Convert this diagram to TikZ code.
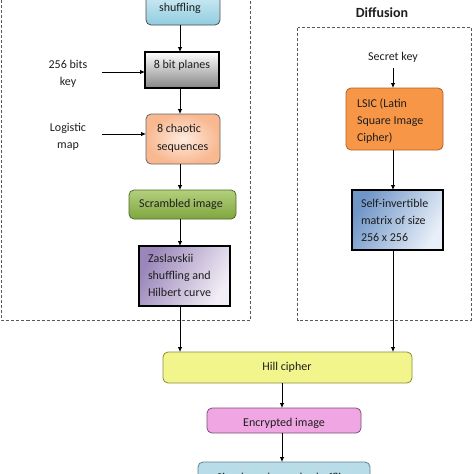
\documentclass[tikz,border=0pt]{standalone}
\usepackage{fontspec}
\setmainfont{Carlito}
\usetikzlibrary{arrows.meta,calc}
\definecolor{shufTop}{HTML}{D6EEF6}
\definecolor{shufBot}{HTML}{8FCCE0}
\definecolor{bitsBot}{HTML}{858585}
\definecolor{peach}{HTML}{F8B890}
\definecolor{peachIn}{HTML}{FDEBDF}
\definecolor{grTop}{HTML}{B3CF7C}
\definecolor{grBot}{HTML}{7FA640}
\definecolor{grLine}{HTML}{4F6B2C}
\definecolor{purp}{HTML}{9A86BA}
\definecolor{purpL}{HTML}{F2EEF6}
\definecolor{orangeF}{HTML}{F79646}
\definecolor{orangeL}{HTML}{B0612A}
\definecolor{blueD}{HTML}{7096C8}
\definecolor{blueL}{HTML}{E8EFF8}
\definecolor{yellowF}{HTML}{F2F58C}
\definecolor{yellowL}{HTML}{8A8A3E}
\definecolor{pinkF}{HTML}{F0A6E2}
\definecolor{pinkL}{HTML}{7E4E78}
\definecolor{cyanF}{HTML}{B8DDE8}
\definecolor{cyanL}{HTML}{5C808C}
\definecolor{txtc}{HTML}{1E1E1E}
\begin{document}
\begin{tikzpicture}[x=1pt,y=-1pt,
  txt/.style={inner sep=0pt, outer sep=0pt, font=\fontsize{12}{14}\selectfont, text=txtc},
  box/.style={draw, inner sep=0pt, outer sep=0pt, line width=0.8pt},
  sqbox/.style={box, line width=1.2pt, draw=black},
  rbox/.style={box, rounded corners=5pt},
  conn/.style={line width=0.8pt, -{Latex[length=5pt,width=4.5pt]}},
  frame/.style={draw=black!65, line width=0.8pt, dash pattern=on 3pt off 2pt}
]
\useasboundingbox (0,0) rectangle (474,474);
\clip (0,0) rectangle (474,474);
\fill[white] (0,0) rectangle (474,474);

% dashed frames
\draw[frame] (1.5,-10) rectangle (250.5,320);
\draw[frame] (297.5,27.5) rectangle (471,320);

% boxes
\node[rbox, draw=black!70, top color=shufTop, bottom color=shufBot, minimum width=74pt, minimum height=34pt] (shuf) at (183,8) {};
\node[sqbox, top color=white, bottom color=bitsBot, minimum width=74pt, minimum height=36pt] (bits) at (182,70) {};
\node[rbox, draw=black!60, inner color=peachIn, outer color=peach, minimum width=74pt, minimum height=50pt] (chao) at (183,139) {};
\node[rbox, draw=grLine, top color=grTop, bottom color=grBot, minimum width=107pt, minimum height=29pt] (scr) at (182.5,204.5) {};
\node[sqbox, left color=purp, right color=purpL, shading angle=60, minimum width=91pt, minimum height=60pt] (zas) at (184.5,276) {};
\node[rbox, draw=orangeL, fill=orangeF, minimum width=97pt, minimum height=62pt] (lsic) at (394.5,119) {};
\node[sqbox, left color=blueD, right color=blueL, shading angle=60, minimum width=91pt, minimum height=60pt] (self) at (397.5,220) {};
\node[rbox, draw=yellowL, fill=yellowF, minimum width=249pt, minimum height=31pt] (hill) at (287.5,367.5) {};
\node[rbox, draw=pinkL, fill=pinkF, minimum width=154pt, minimum height=25pt] (enc) at (284,420.5) {};
\node[rbox, draw=cyanL, fill=cyanF, minimum width=172pt, minimum height=46pt] (bot) at (284,485) {};

% texts
\node[txt, anchor=base] (tshuf) at (180,11) {shuffling};
\node[txt, anchor=base] (tbits) at (182,68) {8 bit planes};
\node[txt, anchor=base] (tkey1) at (68,68) {256 bits};
\node[txt, anchor=base] (tkey2) at (68,85) {key};
\node[txt, anchor=base west] (tch1) at (157,132) {8 chaotic};
\node[txt, anchor=base west] (tch2) at (157,150) {sequences};
\node[txt, anchor=base] (tlog1) at (68,131) {Logistic};
\node[txt, anchor=base] (tlog2) at (68,148) {map};
\node[txt, anchor=base] (tscr) at (181,207) {Scrambled image};
\node[txt, anchor=base west] (tz1) at (148,262) {Zaslavskii};
\node[txt, anchor=base west] (tz2) at (148,279) {shuffling and};
\node[txt, anchor=base west] (tz3) at (148,296) {Hilbert curve};
\node[txt, anchor=base, font=\fontsize{14}{16}\selectfont\bfseries] (tdif) at (382,17) {Diffusion};
\node[txt, anchor=base] (tsk) at (393,60) {Secret key};
\node[txt, anchor=base west] (tl1) at (357,107) {LSIC (Latin};
\node[txt, anchor=base west] (tl2) at (357,124) {Square Image};
\node[txt, anchor=base west] (tl3) at (357,141) {Cipher)};
\node[txt, anchor=base west] (ts1) at (361,207) {Self-invertible};
\node[txt, anchor=base west] (ts2) at (361,224) {matrix of size};
\node[txt, anchor=base west] (ts3) at (361,241) {256 x 256};
\node[txt, anchor=base] (thill) at (287,370) {Hill cipher};
\node[txt, anchor=base] (tenc) at (284,426) {Encrypted image};
\node[txt, anchor=base] (tbot) at (285,481) {Sine-based pseudo shuffling};

% connector helpers
\coordinate (ax) at (180,0);
\coordinate (bx) at (393,0);
\coordinate (cx) at (282,0);
\coordinate (k1) at (102,72);
\coordinate (k2) at (102,134);
\coordinate (sk) at (393,68);

% connectors
\draw[conn] (shuf.south -| ax) -- (bits.north -| ax);
\draw[conn] (bits.south -| ax) -- (chao.north -| ax);
\draw[conn] (chao.south -| ax) -- (scr.north -| ax);
\draw[conn] (scr.south -| ax) -- (zas.north -| ax);
\draw[conn] (zas.south -| ax) -- (hill.north -| ax);
\draw[conn] (k1) -- (k1 -| bits.west);
\draw[conn] (k2) -- (k2 -| chao.west);
\draw[conn] (sk) -- (sk |- lsic.north);
\draw[conn] (lsic.south -| bx) -- (self.north -| bx);
\draw[conn] (self.south -| bx) -- (hill.north -| bx);
\draw[conn] (hill.south -| cx) -- (enc.north -| cx);
\draw[conn] (enc.south -| cx) -- (bot.north -| cx);
\end{tikzpicture}
\end{document}
